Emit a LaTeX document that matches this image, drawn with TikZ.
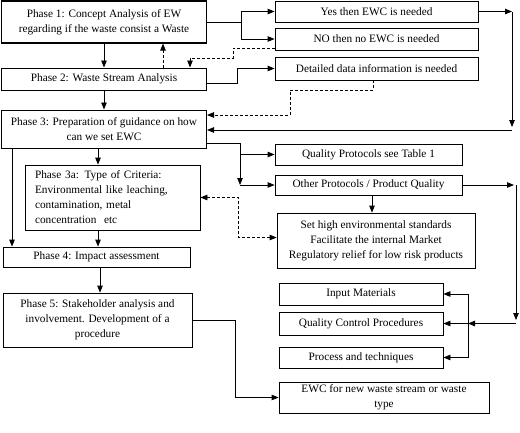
\documentclass[tikz,border=0pt]{standalone}
\usepackage{fontspec}
\setmainfont{Liberation Serif}
\usetikzlibrary{arrows.meta,calc}
\begin{document}
\begin{tikzpicture}[x=1pt,y=-1pt,
  box/.style={draw,line width=0.8pt,inner sep=0pt,align=center,
    font=\fontsize{11.3}{15}\selectfont},
  arr/.style={line width=0.8pt,-{Triangle[length=7pt,width=5.5pt]}},
  ln/.style={line width=0.8pt},
  darr/.style={line width=0.8pt,dash pattern=on 3pt off 2pt,-{Triangle[length=7pt,width=5.5pt]}},
  dboth/.style={line width=0.8pt,dash pattern=on 3pt off 2pt,{Triangle[length=7pt,width=5.5pt]}-{Triangle[length=7pt,width=5.5pt]}}]
\useasboundingbox (0,0) rectangle (520,432);
% nodes
\node[box,line width=1.1pt,minimum width=205pt,minimum height=42pt] (p1) at (104,22) {Phase 1: Concept Analysis of EW\\regarding if the waste consist a Waste};
\node[box,minimum width=203pt,minimum height=21pt] (yes) at (376.5,11.5) {Yes then EWC is needed};
\node[box,minimum width=203pt,minimum height=22pt] (no) at (376.5,39) {NO then no EWC is needed};
\node[box,line width=1pt,minimum width=205pt,minimum height=22pt] (p2) at (104,79) {Phase 2: Waste Stream Analysis};
\node[box,minimum width=203pt,minimum height=23pt] (det) at (376.5,68.5) {Detailed data information is needed};
\node[box,line width=1pt,minimum width=205pt,minimum height=38pt] (p3) at (104,129) {Phase 3: Preparation of guidance on how\\can we set EWC};
\node[box,minimum width=187pt,minimum height=21pt] (qp) at (368.5,154.5) {Quality Protocols see Table 1};
\node[box,minimum width=187pt,minimum height=20pt] (op) at (368.5,185) {Other Protocols / Product Quality};
\node[box,align=left,text width=155pt,inner xsep=10pt,minimum height=65pt] (p3a) at (112.5,197.5) {Phase 3a: Type of Criteria:\\Environmental like leaching,\\contamination, metal\\concentration~ etc};
\node[box,minimum width=198pt,minimum height=55pt] (sh) at (376,240.5) {Set high environmental standards\\Facilitate the internal Market\\Regulatory relief for low risk products};
\node[box,minimum width=187pt,minimum height=20pt] (p4) at (96.5,257) {Phase 4: Impact assessment};
\node[box,minimum width=189pt,minimum height=54pt] (p5) at (97.5,320) {Phase 5: Stakeholder analysis and\\involvement. Development of a\\procedure};
\node[box,minimum width=164pt,minimum height=22pt] (im) at (361,294) {Input Materials};
\node[box,minimum width=164pt,minimum height=23pt] (qc) at (361,323.5) {Quality Control Procedures};
\node[box,minimum width=164pt,minimum height=21pt] (pt) at (361,357.5) {Process and techniques};
\node[box,minimum width=210pt,minimum height=31pt] (ewc) at (384,397.5) {EWC for new waste stream or waste\\type};
% connectors
\draw[ln] (p1.east) -- ++(34,0) coordinate (j1);
\draw[arr] (j1) |- (yes.west);
\draw[arr] (j1) |- (no.west);
\coordinate (c1) at (512,11.5);
\coordinate (c2) at (512,127);
\coordinate (c3) at (512,130);
\draw[arr] (yes.east) -- (c1);
\draw[arr] (c1) -- (c2);
\draw[arr] (c3) -- (c3 -| p3.east);
\draw[arr] (p1.south) -- (p2.north);
\draw[darr] ([xshift=59pt]p2.north) -- ([xshift=59pt]p1.south);
\coordinate (d1) at (233,58);
\draw[darr] ([yshift=-9pt]no.west) -| (d1) -| ([xshift=86pt]p2.north);
\draw[arr] ([yshift=-4pt]p2.east) -- ++(30,0) |- (det.west);
\coordinate (d2) at (290,90);
\draw[darr] ([xshift=-3pt]det.south) |- (d2) |- ([yshift=14pt]p3.east);
\draw[arr] (p2.south) -- (p3.north);
\draw[ln] ([yshift=-14pt]p3.east) -- ++(33,0) coordinate (j3);
\draw[arr] (j3) -- (j3 |- op.west);
\draw[arr] (j3 |- qp.west) -- (qp.west);
\draw[arr] (j3 |- op.west) -- (op.west);
\coordinate (c4) at (514,185);
\coordinate (c5) at (516,185);
\coordinate (c6) at (516,320);
\coordinate (c7) at (516,323.5);
\coordinate (c8) at (468,323.5);
\draw[arr] (op.east) -- (c4);
\draw[arr] (c5) -- (c6);
\draw[arr] (c7) -- (c8);
\draw[ln] (c8 |- im.east) -- (c8 |- pt.east);
\draw[arr] (c8 |- im.east) -- (im.east);
\draw[arr] (c8 |- qc.east) -- (qc.east);
\draw[arr] (c8 |- pt.east) -- (pt.east);
\draw[arr] ([xshift=3.5pt]op.south) -- ([xshift=3.5pt]op.south |- sh.north);
\draw[dboth] (p3a.east) -- ++(38,0) |- ([yshift=3pt]sh.west);
\draw[arr] ([xshift=-6pt]p3.south) -- ([xshift=-6pt]p3.south |- p3a.north);
\draw[arr] ([xshift=-14.5pt]p3a.south) -- ([xshift=-14.5pt]p3a.south |- p4.north);
\draw[arr] ([xshift=11pt]p3.south west) -- ([xshift=11pt]p3.south west |- p4.north);
\draw[arr] ([xshift=3.5pt]p4.south) -- ([xshift=3.5pt]p4.south |- p5.north);
\draw[arr] (p5.east) -- ++(43,0) |- (ewc.west);
\end{tikzpicture}
\end{document}
